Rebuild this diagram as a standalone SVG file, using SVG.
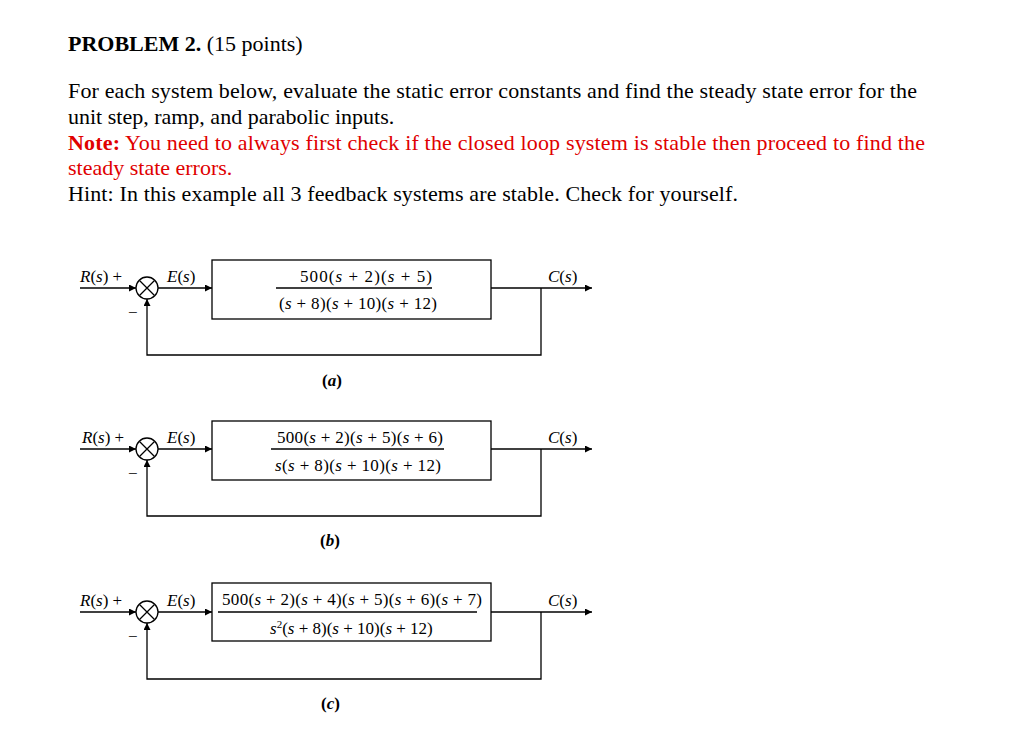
<svg xmlns="http://www.w3.org/2000/svg" width="1024" height="736" viewBox="0 0 1024 736">
<style>
.t{font-family:"Liberation Serif",serif;font-size:22px;fill:#000}
.r{fill:#e00000}
.d{font-family:"Liberation Serif",serif;font-size:17px;fill:#000}
.i{font-style:italic}
.ln{stroke:#000;stroke-width:1.3;fill:none}
.bx{stroke:#000;stroke-width:1.3;fill:#fff}
</style>
<defs>
<marker id="a" viewBox="0 0 10 10" refX="10" refY="5" markerWidth="11" markerHeight="7" markerUnits="userSpaceOnUse" orient="auto"><path d="M0,0L10,5L0,10z" fill="#000"/></marker>
<g id="sum"><circle r="11" class="bx"/><path d="M-7.5,-7.5L7.5,7.5M7.5,-7.5L-7.5,7.5" class="ln"/></g>
</defs>
<rect width="1024" height="736" fill="#fff"/>
<g id="text">
<text x="68" y="51" class="t" font-size="20"><tspan font-weight="bold">PROBLEM 2.</tspan> (15 points)</text>
<text x="68" y="98" class="t" textLength="849">For each system below, evaluate the static error constants and find the steady state error for the</text>
<text x="68" y="124" class="t">unit step, ramp, and parabolic inputs.</text>
<text x="68" y="150" class="t r" textLength="857"><tspan font-weight="bold">Note:</tspan> You need to always first check if the closed loop system is stable then proceed to find the</text>
<text x="68" y="175" class="t r">steady state errors.</text>
<text x="68" y="201" class="t" textLength="670">Hint: In this example all 3 feedback systems are stable. Check for yourself.</text>
</g>
<g id="connectors">
<path class="ln" d="M80,288H136" marker-end="url(#a)"/>
<path class="ln" d="M158,288H212" marker-end="url(#a)"/>
<path class="ln" d="M491,288H592" marker-end="url(#a)"/>
<path class="ln" d="M541,288V355H147V299" marker-end="url(#a)"/>
<path class="ln" d="M80,449H136" marker-end="url(#a)"/>
<path class="ln" d="M158,449H212" marker-end="url(#a)"/>
<path class="ln" d="M491,449H592" marker-end="url(#a)"/>
<path class="ln" d="M541,449V516H147V460" marker-end="url(#a)"/>
<path class="ln" d="M80,612H136" marker-end="url(#a)"/>
<path class="ln" d="M158,612H212" marker-end="url(#a)"/>
<path class="ln" d="M491,612H592" marker-end="url(#a)"/>
<path class="ln" d="M541,612V679H147V623" marker-end="url(#a)"/>
</g>
<g id="sysA">
<use href="#sum" x="147" y="288"/>
<text x="80" y="282" class="d"><tspan class="i">R</tspan>(<tspan class="i">s</tspan>) +</text>
<text x="128" y="318" class="d">−</text>
<text x="167" y="282" class="d"><tspan class="i">E</tspan>(<tspan class="i">s</tspan>)</text>
<rect x="212" y="260" width="279" height="59" class="bx"/>
<text x="300" y="282" class="d" textLength="132">500(<tspan class="i">s</tspan> + 2)(<tspan class="i">s</tspan> + 5)</text>
<path class="ln" d="M276,288H432"/>
<text x="279" y="309" class="d" textLength="158">(<tspan class="i">s</tspan> + 8)(<tspan class="i">s</tspan> + 10)(<tspan class="i">s</tspan> + 12)</text>
<text x="548" y="282" class="d"><tspan class="i">C</tspan>(<tspan class="i">s</tspan>)</text>
<text x="322" y="386" class="d" font-weight="bold">(<tspan class="i">a</tspan>)</text>
</g>
<g id="sysB">
<use href="#sum" x="147" y="449"/>
<text x="82" y="443" class="d"><tspan class="i">R</tspan>(<tspan class="i">s</tspan>) +</text>
<text x="128" y="479" class="d">−</text>
<text x="167" y="443" class="d"><tspan class="i">E</tspan>(<tspan class="i">s</tspan>)</text>
<rect x="212" y="421" width="279" height="59" class="bx"/>
<text x="277" y="443" class="d" textLength="166">500(<tspan class="i">s</tspan> + 2)(<tspan class="i">s</tspan> + 5)(<tspan class="i">s</tspan> + 6)</text>
<path class="ln" d="M271,449H444"/>
<text x="275" y="471" class="d" textLength="166"><tspan class="i">s</tspan>(<tspan class="i">s</tspan> + 8)(<tspan class="i">s</tspan> + 10)(<tspan class="i">s</tspan> + 12)</text>
<text x="548" y="443" class="d"><tspan class="i">C</tspan>(<tspan class="i">s</tspan>)</text>
<text x="320" y="546" class="d" font-weight="bold">(<tspan class="i">b</tspan>)</text>
</g>
<g id="sysC">
<use href="#sum" x="147" y="612"/>
<text x="80" y="606" class="d"><tspan class="i">R</tspan>(<tspan class="i">s</tspan>) +</text>
<text x="128" y="642" class="d">−</text>
<text x="167" y="606" class="d"><tspan class="i">E</tspan>(<tspan class="i">s</tspan>)</text>
<rect x="212" y="583" width="279" height="58" class="bx"/>
<text x="222" y="605" class="d" textLength="260">500(<tspan class="i">s</tspan> + 2)(<tspan class="i">s</tspan> + 4)(<tspan class="i">s</tspan> + 5)(<tspan class="i">s</tspan> + 6)(<tspan class="i">s</tspan> + 7)</text>
<path class="ln" d="M218,612H477"/>
<text x="270" y="634" class="d"><tspan class="i">s</tspan><tspan font-size="11" dy="-6">2</tspan><tspan dy="6">(</tspan><tspan class="i">s</tspan> + 8)(<tspan class="i">s</tspan> + 10)(<tspan class="i">s</tspan> + 12)</text>
<text x="548" y="606" class="d"><tspan class="i">C</tspan>(<tspan class="i">s</tspan>)</text>
<text x="321" y="709" class="d" font-weight="bold">(<tspan class="i">c</tspan>)</text>
</g>
</svg>
